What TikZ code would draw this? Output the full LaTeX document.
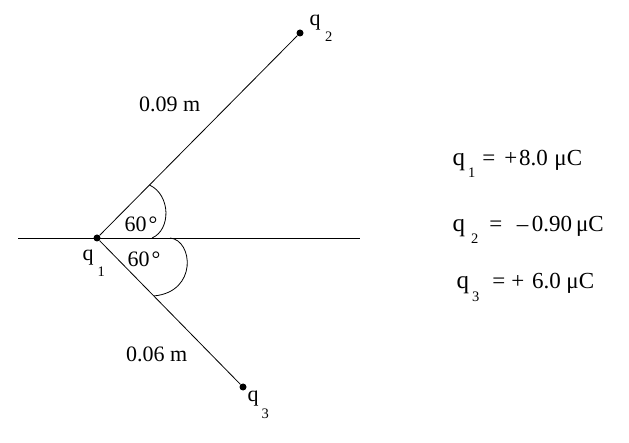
\documentclass[tikz,border=0pt]{standalone}
\usepackage{fontspec}
\setmainfont{Liberation Serif}
\usetikzlibrary{calc}
% q with a lowered subscript: #1 digit, #2 gap, #3 drop
\newcommand\qsub[3]{q\hspace{#2}\raisebox{-#3}{\fontsize{14.5}{14.5}\selectfont #1}}
\newcommand\qbig[3]{{\fontsize{25}{25}\selectfont q}\hspace{#2}\raisebox{-#3}{\fontsize{14.5}{14.5}\selectfont #1}}
\begin{document}
\begin{tikzpicture}[x=1pt,y=-1pt,
  charge/.style={circle,fill=black,inner sep=0pt,minimum size=7pt},
  lbl/.style={inner sep=0pt,font=\fontsize{22}{26}\selectfont},
  eq/.style={inner sep=0pt,font=\fontsize{23}{27}\selectfont},
  ang/.style={line width=0.8pt},
  ln/.style={line width=0.8pt}]
\useasboundingbox (0,0) rectangle (629,443);
\fill[white] (0,0) rectangle (629,443);
\coordinate (h1) at (18,238);
\coordinate (h2) at (360,238);
\node[charge] (q1) at (97,238) {};
\node[charge] (q2) at (300,33) {};
\node[charge] (q3) at (243,387) {};
\draw[ln] (h1) -- (h2);
\draw[ln] (q1) -- (q2);
\draw[ln] (q1) -- (q3);
% angle arcs
\coordinate (a1) at ($(q1.center)!0.2585!(q2.center)$);
\coordinate (a2) at (152,238);
\coordinate (b1) at (170,238);
\coordinate (b2) at ($(q1.center)!0.389!(q3.center)$);
\draw[ang] (a1) .. controls (171,195) and (171,230) .. (a2);
\draw[ang] (b1) .. controls (193,240) and (198,292) .. (b2);
% labels
\node[lbl,anchor=base west] (d1) at (139,112) {0.09 m};
\node[lbl,anchor=base west] (d2) at (126,362) {0.06 m};
\node[lbl,anchor=base west] (an1) at (124.5,232) {60\hspace{2pt}°};
\node[lbl,anchor=base west] (an2) at (127.5,267) {60\hspace{2pt}°};
\node[lbl,anchor=base west] (l1) at (82.5,261) {\qsub{1}{4pt}{16pt}};
\node[lbl,anchor=base west] (l2) at (309.5,26) {\qsub{2}{4.5pt}{16pt}};
\node[lbl,anchor=base west] (l3) at (247.5,402) {\qsub{3}{3pt}{17pt}};
% equations
\node[eq,anchor=base west] (e1) at (452.5,166)
  {\qbig{1}{3pt}{12pt}\hspace{7pt}=\hspace{9pt}+\hspace{1.8pt}8.0\hspace{6.5pt}μC};
\node[eq,anchor=base west] (e2) at (452.5,232)
  {\qbig{2}{6pt}{12pt}\hspace{11pt}=\hspace{14.5pt}–\hspace{3.5pt}0.90\hspace{4pt}μC};
\node[eq,anchor=base west] (e3) at (456.5,289)
  {\qbig{3}{3pt}{13pt}\hspace{13pt}=\hspace{6pt}+\hspace{7.8pt}6.0\hspace{5.5pt}μC};
\end{tikzpicture}
\end{document}
